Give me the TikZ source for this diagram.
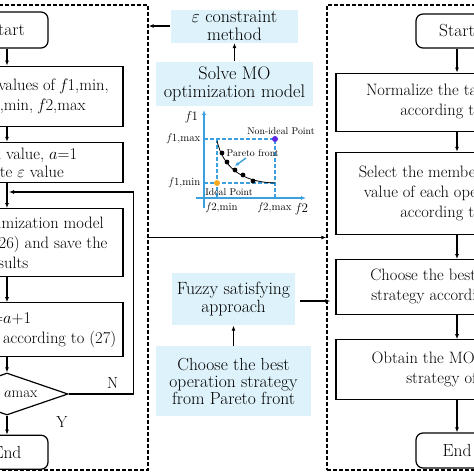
\documentclass[tikz,border=0pt]{standalone}
\usepackage{fix-cm}
\usepackage{fontspec}
\usepackage{amsmath}
\usetikzlibrary{arrows.meta, positioning, shapes.geometric}
\definecolor{paleblue}{RGB}{221,242,250}
\definecolor{plotblue}{RGB}{60,160,222}
\definecolor{idealorange}{RGB}{245,170,30}
\definecolor{nonidealpurple}{RGB}{95,40,225}

\begin{document}
\begin{tikzpicture}[x=1pt, y=-1pt, >={Latex[length=5pt,width=4pt]}, line width=1.2pt, node distance=20pt]

% --- Style Definitions ---
% flow chart steps (white, black border)
\tikzstyle{flow_box}=[rectangle, draw, line width=1.2pt, align=center, font=\fontsize{16.5}{20}\selectfont, inner sep=2pt]
\tikzstyle{term_box}=[flow_box, rounded corners=7pt, minimum width=82pt, font=\fontsize{17.5}{18}\selectfont]
% method boxes in the middle (pale blue, no border)
\tikzstyle{method_box}=[rectangle, fill=paleblue, align=center, font=\fontsize{17.7}{17.5}\selectfont, inner sep=0pt]
% panels
\tikzstyle{panel}=[draw, dashed, dash pattern=on 4pt off 2pt, line width=1.3pt, inner sep=0pt]
% arrows
\tikzstyle{flow_arrow}=[->, line width=1.2pt]
\tikzstyle{axis_arrow}=[->, plotblue, line width=1.3pt]
\tikzstyle{guide_line}=[plotblue, dashed, dash pattern=on 4pt off 2pt, line width=1.1pt]
\tikzstyle{plot_lbl}=[font=\fontsize{11}{12}\selectfont, inner sep=1pt]
\tikzstyle{point_lbl}=[font=\fontsize{9.8}{10}\selectfont, inner sep=1pt]

\useasboundingbox (0,0) rectangle (474,474);
\clip (0,0) rectangle (474,474);

% --- Panels ---
\node[panel, minimum width=188pt, minimum height=465pt] (lpanel) at (54,237.5) {};
\node[panel, minimum width=193pt, minimum height=465pt] (rpanel) at (423.5,237.5) {};

% --- Left panel: epsilon constraint steps ---
\node[term_box, minimum height=36pt] (lstart) at (7,30) {Start};
\node[flow_box, minimum width=232pt, minimum height=60pt, below=17pt of lstart] (lcalc)
  {Calculate the values of \textit{f}1,min,\\ \textit{f}1,max, \textit{f}2,min, \textit{f}2,max};
\node[flow_box, minimum width=232pt, minimum height=40pt, below=15pt of lcalc, font=\fontsize{16.5}{18}\selectfont] (lset)
  {Set initial value, $a$=1\\ Calculate $\varepsilon$ value};
\node[flow_box, minimum width=232pt, minimum height=68pt, below=25pt of lset] (lsolve)
  {Solve the optimization model\\ according to (26) and save the\\ results};
\node[flow_box, minimum width=232pt, minimum height=54pt, below=25pt of lsolve] (lupd)
  {$a$=$a$+1\\ Update $\varepsilon$ value according to (27)};
\node[diamond, draw, line width=1.2pt, aspect=2.9, inner sep=0pt, minimum width=122pt, minimum height=42pt,
  font=\fontsize{15}{16}\selectfont, below=15pt of lupd] (ldec) {$a=a$max};
\node[term_box, minimum height=34pt, below=19pt of ldec] (lend) {End};

\coordinate (lmerge) at (7,192);

\draw[flow_arrow] (lstart) -- (lcalc);
\draw[flow_arrow] (lcalc) -- (lset);
\draw[flow_arrow] (lset) -- (lsolve);
\draw[flow_arrow] (lsolve) -- (lupd);
\draw[flow_arrow] (lupd) -- (ldec);
\draw[flow_arrow] (ldec) -- (lend);
\draw[flow_arrow] (ldec.east) -- ++(65,0) |- ([xshift=2pt]lmerge);
\node[font=\fontsize{16}{16}\selectfont] (lno) at ([xshift=44pt,yshift=11pt]ldec.east) {N};
\node[font=\fontsize{16}{16}\selectfont] (lyes) at ([xshift=55pt,yshift=-6pt]ldec.south) {Y};

% --- Middle: methods ---
\node[method_box, minimum width=127pt, minimum height=33pt, font=\fontsize{18}{18}\selectfont] (eps) at (234.5,26) {$\varepsilon$ constraint\\ method};
\node[method_box, minimum width=157pt, minimum height=44pt, font=\fontsize{18.2}{18.5}\selectfont, below=18pt of eps] (mosolve)
  {Solve MO\\ optimization model};
\draw[flow_arrow] (mosolve) -- (eps);
\draw[flow_arrow] (eps.west) -- (eps.west -| lpanel.east);

% Pareto sketch
\draw[axis_arrow] (204,208) -- (204,110);
\draw[axis_arrow] (196,198) -- (306,198);
\draw[guide_line] (204,139) -- (275,139) -- (275,198);
\draw[guide_line] (217,139) -- (217,198);
\draw[guide_line] (204,183) -- (275,183);
\draw[line width=0.8pt] (217,141) .. controls (223,166) and (240,182) .. (275,183);
\foreach \px/\py in {222/153, 227/162, 235/170, 243/175, 253/181}
  \fill (\px,\py) circle (2.4pt);
\fill[nonidealpurple] (275,139) circle (3pt);
\fill[idealorange] (217,183) circle (3pt);
\draw[->, plotblue, line width=1.4pt, >={Latex[length=4pt,width=4pt]}] (246,158) -- (235,166);

\node[plot_lbl, font=\fontsize{13}{14}\selectfont] (f1lbl) at (192,117) {\textit{f}1};
\node[plot_lbl, anchor=east] (f1maxlbl) at (202,139) {\textit{f}1,max};
\node[plot_lbl, anchor=east] (f1minlbl) at (202,183) {\textit{f}1,min};
\node[plot_lbl] (f2minlbl) at (222,208) {\textit{f}2,min};
\node[plot_lbl] (f2maxlbl) at (275,208) {\textit{f}2,max};
\node[plot_lbl, font=\fontsize{13}{14}\selectfont] (f2lbl) at (302,209) {\textit{f}2};
\node[point_lbl] (nonideal) at (281,131) {Non-ideal Point};
\node[point_lbl] (ideal) at (229,192) {Ideal Point};
\node[point_lbl, anchor=west] (pareto) at (225,153) {Pareto front};

\draw[flow_arrow] (lpanel.east) -- (rpanel.west);

\node[method_box, minimum width=123pt, minimum height=52pt] (fuzzy) at (233.5,299) {Fuzzy satisfying\\ approach};
\node[method_box, minimum width=155pt, minimum height=70pt, font=\fontsize{17.5}{17}\selectfont, below=20pt of fuzzy] (choose)
  {Choose the best\\ operation strategy\\ from Pareto front};
\draw[flow_arrow] (choose) -- (fuzzy);
\draw[flow_arrow] ([xshift=4pt,yshift=-2pt]fuzzy.east) -- ([xshift=4pt,yshift=-2pt]fuzzy.east -| rpanel.west);

% --- Right panel: fuzzy decision steps ---
\node[term_box, minimum height=34pt] (rstart) at (457,31) {Start};
\node[flow_box, minimum width=242pt, minimum height=58pt, below=24pt of rstart] (rnorm)
  {Normalize the target values\\ according to (28)};
\node[flow_box, minimum width=242pt, minimum height=82pt, below=20pt of rnorm] (rsel)
  {Select the membership degree\\ value of each operation plan\\ according to (29)};
\node[flow_box, minimum width=242pt, minimum height=55pt, below=24pt of rsel] (rchoose)
  {Choose the best operation\\ strategy according to (30)};
\node[flow_box, minimum width=242pt, minimum height=60pt, below=24pt of rchoose] (robt)
  {Obtain the MO operation\\ strategy of MG};
\node[term_box, minimum height=35pt, below=32pt of robt] (rend) {End};

\draw[flow_arrow] (rstart) -- (rnorm);
\draw[flow_arrow] (rnorm) -- (rsel);
\draw[flow_arrow] (rsel) -- (rchoose);
\draw[flow_arrow] (rchoose) -- (robt);
\draw[flow_arrow] (robt) -- (rend);

\end{tikzpicture}
\end{document}
